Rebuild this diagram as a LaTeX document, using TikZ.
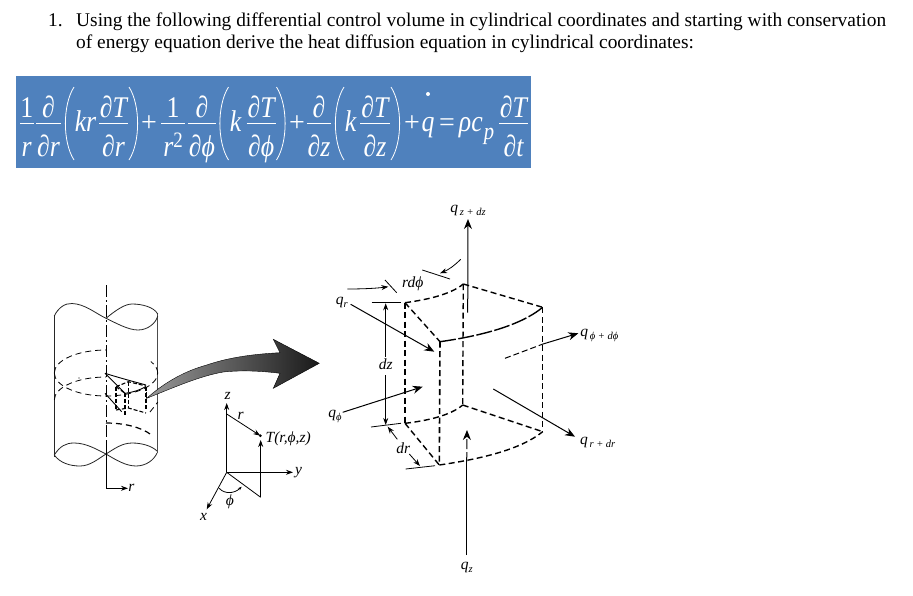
\documentclass[tikz,border=0pt]{standalone}
\usepackage{fontspec}
\setmainfont{Liberation Serif}
\usetikzlibrary{arrows.meta}
\newcommand\phisym{ϕ}
\newcommand\sx[1]{\scalebox{0.86}[1]{#1}}
% name, left x, right x, numerator, denominator
\newcommand\eqfrac[5]{%
  \node[eqtext] (#1n) at ({(#2+#3)/2},117.5) {\sx{#4}};
  \node[eqtext] (#1d) at ({(#2+#3)/2},156) {\sx{#5}};
  \draw[eqbar] (#2,123.4) -- (#3,123.4);
}
\newcommand\eqlp[1]{\draw[eqparen] (#1+9.5,87) .. controls (#1-2,105) and (#1-2,142) .. (#1+9.5,160);}
\newcommand\eqrp[1]{\draw[eqparen] (#1,87) .. controls (#1+11.5,105) and (#1+11.5,142) .. (#1,160);}
\tikzset{
  eqtext/.style={anchor=base,inner sep=0pt,text=white,font=\fontsize{30}{30}\selectfont\itshape},
  equpright/.style={anchor=base,inner sep=0pt,text=white,font=\fontsize{28}{28}\selectfont},
  eqbar/.style={white,line width=1pt},
  eqparen/.style={white,line width=0.8pt},
  headline/.style={anchor=base west,inner sep=0pt,font=\fontsize{19.4}{22}\selectfont},
  lab/.style={inner sep=0pt,font=\fontsize{15.5}{15.5}\selectfont\itshape},
  ln/.style={black,line width=1pt},
  dsh/.style={black,line width=1.4pt,dash pattern=on 6pt off 3.5pt},
  arr/.style={black,line width=1pt,-{Stealth[length=10pt,width=8pt]}},
  arrs/.style={black,line width=0.8pt,-{Stealth[length=7pt,width=5pt]}},
  cyl/.style={black!85,line width=0.8pt},
  cyld/.style={black,line width=0.8pt,dash pattern=on 6pt off 4pt},
  eld/.style={black,line width=1.1pt,dash pattern=on 4pt off 2pt},
}
\newcommand\subs[1]{\raisebox{-3pt}{\fontsize{10.5}{11}\selectfont #1}}
\begin{document}
\begin{tikzpicture}[x=1pt,y=-1pt]
\useasboundingbox (0,0) rectangle (913,595);
\fill[white] (0,0) rectangle (913,595);
% Heading
\node[headline] (num) at (48,26) {1.};
\node[headline] (l1) at (76,26) {Using the following differential control volume in cylindrical coordinates and starting with conservation};
\node[headline] (l2) at (76,48) {of energy equation derive the heat diffusion equation in cylindrical coordinates:};
% Equation
\fill[fill={rgb,255:red,79;green,129;blue,189}] (16,76) rectangle (531,168);
\eqfrac{a}{20}{33.5}{\upshape 1}{r}
\eqfrac{b}{36}{61}{∂}{∂r}
\eqlp{64.5}
\node[eqtext] (kr) at (85.5,131.5) {\sx{kr}};
\eqfrac{c}{99}{128}{∂T}{∂r}
\eqrp{129}
\node[equpright] (p1) at (149,131.5) {+};
\eqfrac{e}{161}{185}{\upshape 1}{r\raisebox{9pt}{\upshape\fontsize{22}{22}\selectfont 2}}
\eqfrac{f}{188}{216}{∂}{∂\phisym}
\eqlp{219}
\node[eqtext] (k1) at (235.5,131.5) {\sx{k}};
\eqfrac{g}{246.5}{276}{∂T}{∂\phisym}
\eqrp{276.5}
\node[equpright] (p2) at (297,131.5) {+};
\eqfrac{h}{307}{331}{∂}{∂z}
\eqlp{334.5}
\node[eqtext] (k2) at (350.5,131.5) {\sx{k}};
\eqfrac{i}{360}{390}{∂T}{∂z}
\eqrp{391}
\node[equpright] (p3) at (412,131.5) {+};
\node[eqtext] (q) at (428,131.5) {\sx{q}};
\fill[white] (428,94) circle (2pt);
\node[equpright] (eq) at (447,131.5) {=};
\node[eqtext] (rho) at (465,131.5) {\sx{ρ}};
\node[eqtext] (c) at (477,131.5) {\sx{c}};
\node[eqtext,font=\fontsize{24}{24}\selectfont\itshape] (p) at (489,139.5) {\sx{p}};
\eqfrac{j}{499}{528}{∂T}{∂t}
% Cylinder
\draw[cyl] (54.3,315) -- (54.3,456.7);
\draw[black!70,line width=1.1pt] (157.7,313.3) -- (157.7,453.3);
\draw[cyl] (54.3,316) .. controls (58,308) and (65,303) .. (72,303.5) .. controls (85,304) and (95,313) .. (106,318.3)
  .. controls (116,323) and (128,330) .. (138,330) .. controls (148,330) and (156,323) .. (157.7,316);
\draw[cyl] (106,318.3) .. controls (116,310) and (125,304) .. (132,304) .. controls (142,304) and (154,307) .. (157.7,314);
\draw[cyl] (54.3,455) .. controls (60,446) and (66,443) .. (74,443) .. controls (86,443) and (96,449) .. (106,454)
  .. controls (116,460) and (126,466) .. (136,466) .. controls (146,466) and (154,460) .. (157,453);
\draw[cyl] (54.3,455) .. controls (60,463) and (70,466) .. (80,466) .. controls (90,466) and (98,459) .. (106,454)
  .. controls (114,449) and (122,443) .. (132,443) .. controls (142,443) and (152,446) .. (157,451);
% dashed rings
\draw[cyld] (54.3,373) arc[start angle=180,end angle=0,x radius=51.7,y radius=23];
\draw[cyld] (157.7,373) arc[start angle=0,end angle=-30,x radius=51.7,y radius=23];
\draw[cyld] (54.3,373) arc[start angle=180,end angle=270,x radius=51.7,y radius=23];
\draw[cyld] (54.3,400) arc[start angle=180,end angle=270,x radius=51.7,y radius=23];
\draw[cyld,line width=1.2pt] (106,423) arc[start angle=270,end angle=330,x radius=51.7,y radius=23];
\draw[cyld] (150,412) .. controls (153,408) and (156,405) .. (157.7,402);
\fill[black] (79,378) circle (0.6pt);
% axis
\draw[black,line width=0.8pt,dash pattern=on 12pt off 3pt on 2pt off 3pt] (106,285) -- (106,440);
\draw[black,line width=0.8pt] (106,440) -- (106,488.3);
\coordinate (axb) at (106,488.3);
\coordinate (axe) at (128,488.3);
\draw[arrs] (axb) -- (axe);
\node[lab] (rl) at (131.5,487.5) {r};
% small element
\coordinate (sA) at (105,373.3);
\coordinate (sB) at (105,393.3);
\draw[black,line width=0.9pt] (sA) -- (125,393.3) .. controls (134,392) and (140,390) .. (146,386.5);
\draw[black,line width=0.9pt] (sA) .. controls (120,378) and (135,382) .. (146,385);
\draw[black,line width=0.9pt] (sB) -- (121.7,411.7);
\draw[eld] (116,386.7) -- (125,393.3);
\draw[eld] (116,386.7) -- (128.3,381.7) -- (146,386);
\draw[eld] (116,386.7) -- (116,410);
\draw[eld] (125,393.3) -- (125,417);
\draw[eld] (128.3,381.7) -- (128.3,408);
\draw[eld] (146,387) -- (146,410);
\draw[eld] (116,410) -- (128.3,408) -- (146,413);
\draw[black,line width=1pt] (146.7,392) -- (146.7,398.3);
% big arrow
\path[left color=black!40,right color=black!90,draw=black,line width=0.4pt]
  (146.7,398.3) .. controls (165,382) and (185,371) .. (206.7,365)
  .. controls (230,357) and (255,354) .. (280,352.7)
  -- (273.3,339.3) -- (319.3,363.3) -- (273.3,388.3) -- (280,373.3)
  .. controls (262,371) and (242,370) .. (223.3,372)
  .. controls (200,376) and (175,387) .. (146.7,398.3) -- cycle;
% coordinate sketch
\coordinate (O) at (226.7,472.3);
\coordinate (Zt) at (226.7,403);
\coordinate (Yt) at (293,472.3);
\coordinate (Xt) at (206.7,509.3);
\coordinate (Zr) at (226.7,414);
\coordinate (Pt) at (260.3,435.7);
\coordinate (Bt) at (260.7,497.3);
\draw[arrs] (O) -- (Zt);
\draw[arrs] (O) -- (Yt);
\draw[arrs] (O) -- (Xt);
\draw[arrs] (Zr) -- (Pt);
\fill[black] (Pt) circle (1.5pt);
\draw[ln,line width=0.8pt] (O) -- (Bt);
\draw[arrs] (Bt) -- (260.7,440);
\draw[black,line width=0.8pt,-{Stealth[length=4pt,width=3pt]}] (219.3,488.3) .. controls (224,494) and (234,494) .. (241.7,486.7);
\node[lab] (zl) at (227.7,396) {z};
\node[lab] (yl) at (298.5,473) {y};
\node[lab] (xl) at (203.5,517) {x};
\node[lab] (rl2) at (240.7,415.7) {r};
\node[lab] (phl) at (230,501.5) {\phisym};
\node[lab,anchor=west] (Tl) at (265.5,438.5) {T(r,\phisym,z)};
% control volume corners
\coordinate (A) at (405,302.7);
\coordinate (B) at (463.3,284);
\coordinate (C) at (542.7,307.3);
\coordinate (D) at (440,341.7);
\coordinate (E) at (405,423.3);
\coordinate (F) at (462.7,405);
\coordinate (G) at (542.7,431.7);
\coordinate (H) at (439.3,465);
\draw[dsh] (A) .. controls (425,300) and (450,295) .. (B);
\draw[dsh] (B) -- (C);
\draw[dsh] (A) -- (D);
\draw[dsh,dash pattern=on 16pt off 2.5pt] (D) .. controls (480,336) and (520,326) .. (C);
\draw[dsh] (A) -- (E);
\draw[dsh] (B) -- (F);
\draw[dsh,line width=1.6pt] (D) -- (H);
\draw[dsh] (C) -- (G);
\draw[dsh] (E) .. controls (425,421) and (450,416) .. (F);
\draw[dsh] (F) -- (G);
\draw[dsh] (E) -- (H);
\draw[dsh] (H) .. controls (480,459) and (520,450) .. (G);
% heat flow arrows
\coordinate (qzt) at (468,219);
\draw[arr] (467.7,312.7) -- (qzt);
\draw[arr] (350.7,304.3) -- (434.3,351.7);
\draw[black,line width=1pt,dash pattern=on 6pt off 3pt] (505,358.3) -- (543,344);
\draw[arr] (543,344) -- (578.3,333.3);
\draw[arr] (342.7,412.3) -- (422.7,386.7);
\draw[arr] (493.3,389) -- (575,436.7);
\draw[black,line width=1pt] (466.7,555) -- (466.7,462);
\draw[arr,dash pattern=on 10pt off 3pt] (466.7,462) -- (467,430);
% dimension marks
\draw[ln,line width=0.8pt] (422.3,270) -- (450,279);
\draw[arrs] (460.7,259.3) .. controls (454,266) and (448,270) .. (440,273.3);
\draw[ln,line width=0.8pt] (385,280) -- (396.7,292.7);
\draw[arrs] (347.3,289) .. controls (360,289) and (375,288.5) .. (388.3,286.7);
\draw[ln,line width=0.8pt] (371.7,302.7) -- (401,302.7);
\draw[arrs] (385.7,356.7) -- (385.7,303.3);
\draw[arrs] (385.7,375) -- (385.7,425);
\draw[ln,line width=0.8pt] (371,427) -- (401,423.3);
\draw[arrs] (397.3,439.3) -- (387.7,426.7);
\draw[arrs] (409.3,454) -- (420,466);
\draw[ln,line width=0.8pt] (405.7,469) -- (435,465.7);
% labels
\node[lab] (qzd) at (468,210) {q\subs{\,z + dz}};
\node[lab] (rdp) at (412.7,284) {rd\phisym};
\node[lab] (qr) at (341.7,302) {q\subs{r}};
\node[lab] (dzl) at (385.7,364.3) {dz};
\node[lab] (qpd) at (599.3,335.7) {q\subs{\,\phisym\ + d\phisym}};
\node[lab] (qp) at (335,416) {q\subs{\phisym}};
\node[lab] (qrd) at (597.7,442.7) {q\subs{\,r + dr}};
\node[lab] (qz) at (466.7,567.3) {q\subs{z}};
\node[lab] (drl) at (403.3,447.7) {dr};
\end{tikzpicture}
\end{document}
